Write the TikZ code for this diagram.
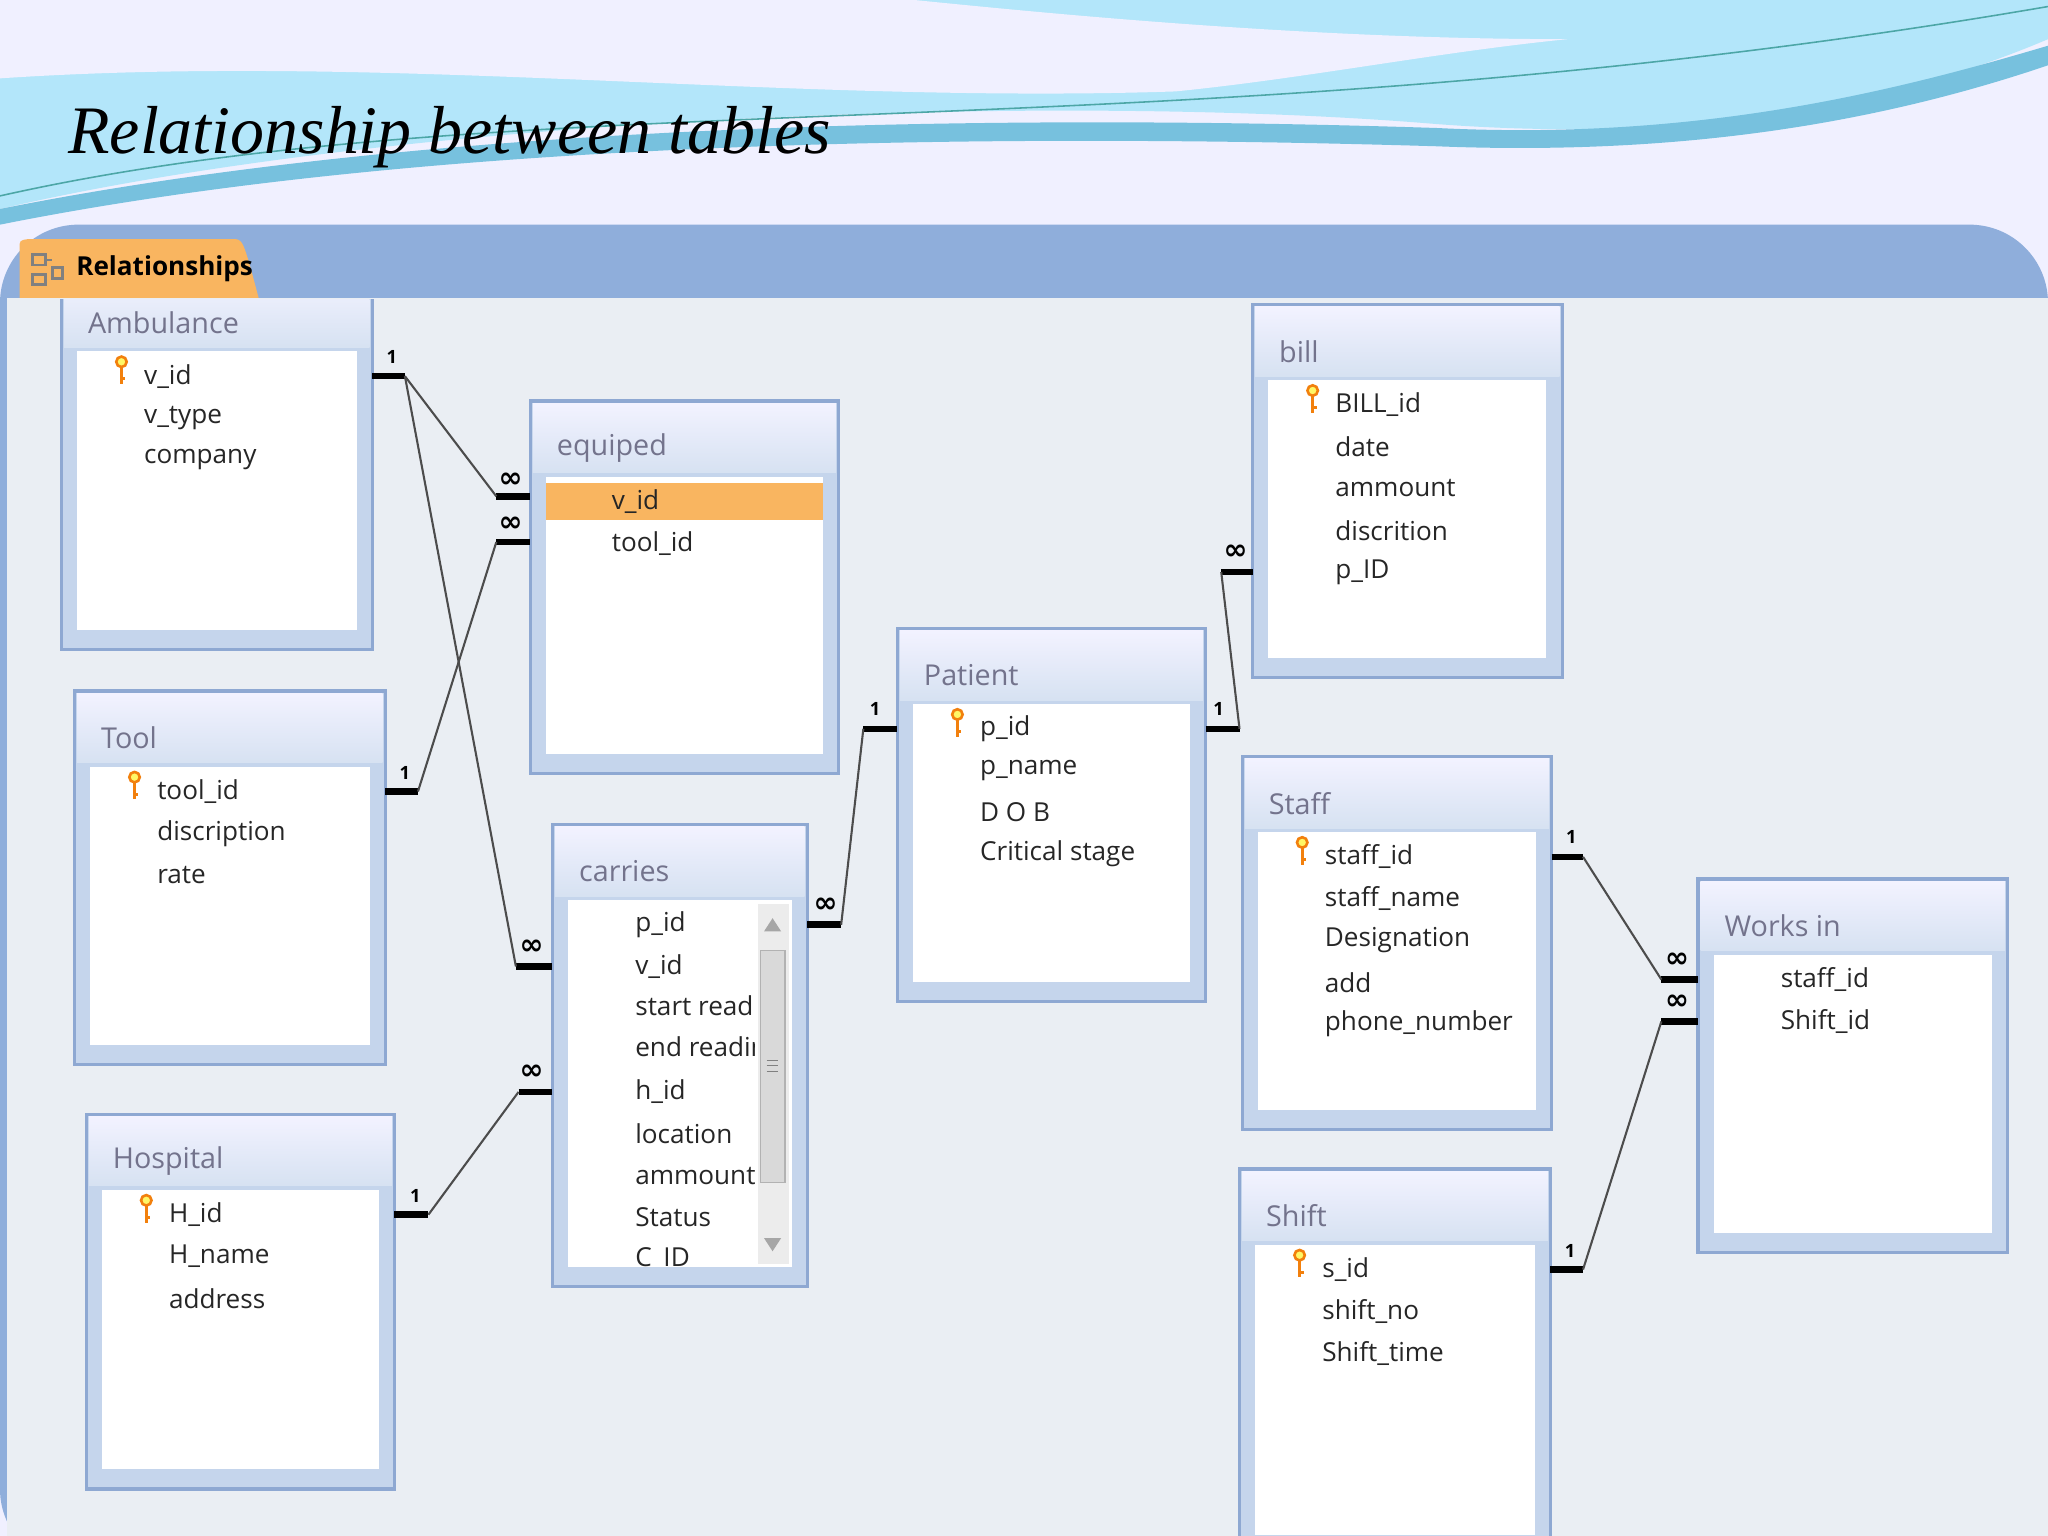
\documentclass[tikz,border=0pt]{standalone}
\usepackage{fontspec}
\setmainfont{Open Sans}
\newfontfamily\ttlfont{Liberation Serif}
\newfontfamily\symfont{DejaVu Sans}
\begin{document}
\begin{tikzpicture}[x=0.5pt,y=-0.5pt,
  fld/.style={anchor=west,font=\fontsize{10}{12}\selectfont,text=black!85,inner sep=0pt},
  ttl/.style={anchor=west,font=\fontsize{11}{13}\selectfont,text=gray!90!blue,inner sep=0pt},
  rel/.style={draw=black!70,line width=0.8pt},
  stub/.style={draw=black,line width=2.5pt},
  one/.style={font=\bfseries\fontsize{7}{8}\selectfont,inner sep=0pt},
  many/.style={font=\symfont\bfseries\fontsize{11}{12}\selectfont,inner sep=0pt}]
\definecolor{bg}{HTML}{EAEEF3}
\definecolor{bar}{HTML}{8FAEDB}
\definecolor{frm}{HTML}{C5D5EC}
\definecolor{frmd}{HTML}{8EA8D2}
\definecolor{orng}{HTML}{F9B560}
\useasboundingbox (0,0) rectangle (1568,1176);
% header
\fill[white!94!blue] (0,0) rectangle (1568,1176);
\fill[cyan!30!white] (0,0) -- (0,160) .. controls (300,90) and (800,70) .. (1100,95) .. controls (1300,110) and (1450,80) .. (1568,30) -- (1568,0) -- cycle;
\fill[white!94!blue] (0,0) -- (0,60) .. controls (300,40) and (600,80) .. (900,70) .. controls (1000,60) and (1100,40) .. (1200,30) .. controls (1000,30) and (800,10) .. (700,0) -- cycle;
\fill[cyan!60!teal!60] (0,160) .. controls (300,100) and (700,85) .. (1100,98) .. controls (1300,108) and (1450,70) .. (1568,35) -- (1568,50) .. controls (1450,90) and (1300,120) .. (1100,112) .. controls (700,100) and (300,112) .. (0,172) -- cycle;
\draw[teal!70,line width=0.6pt] (0,150) .. controls (400,60) and (900,120) .. (1568,5);
\node[anchor=west,font=\ttlfont\itshape\fontsize{26}{30}\selectfont,inner sep=0pt] (title) at (52,105) {Relationship between tables};
% window
\fill[bar,rounded corners=30pt] (0,172) rectangle (1568,1200);
\fill[bg] (5,228) rectangle (1568,1176);
\fill[orng] (15,228) -- (15,190) .. controls (15,184) .. (22,183) -- (178,183) .. controls (186,183) .. (198,228) -- cycle;
\node[anchor=west,font=\bfseries\fontsize{10}{12}\selectfont,inner sep=0pt] (tab) at (58,206) {Relationships};
\draw[gray,line width=1pt] (25,195) rectangle (35,203) (35,199) -- (40,199) (40,205) rectangle (48,213) (25,210) rectangle (35,218);
\newcommand\dbtable[6]{%
  \fill[frm] (#2,#3) rectangle (#4,#5);
  \draw[frmd,line width=1.2pt] (#2,#3) rectangle (#4,#5);
  \shade[top color=white!95!blue,bottom color=frm!70] (#2+2,#3+2) rectangle (#4-2,#3+55);
  \fill[white] (#2+12,#3+58) rectangle (#4-12,#5-15);
  \node[ttl] (#1) at (#2+20,#3+36) {#6};}
\newcommand\keyic[2]{\draw[orange!80!brown,line width=1pt,fill=yellow!60] (#1,#2-8) circle (4);
  \draw[orange!80!brown,line width=1.2pt] (#1,#2-4) -- (#1,#2+9) (#1,#2+5)--(#1+3,#2+5);}
% Ambulance
\begin{scope}
\clip (0,229) rectangle (1568,1176);
\dbtable{amb}{47}{211}{285}{497}{Ambulance}
\end{scope}
\keyic{93}{285}
\node[fld] (a1) at (110,288) {v\_id};
\node[fld] (a2) at (110,320) {v\_type};
\node[fld] (a3) at (110,352) {company};
% equiped
\dbtable{equ}{406}{307}{642}{592}{equiped}
\fill[orng] (418,370) rectangle (630,398);
\node[fld] (e1) at (468,384) {v\_id};
\node[fld] (e2) at (468,416) {tool\_id};
% Tool
\dbtable{tool}{57}{529}{295}{815}{Tool}
\keyic{103}{603}
\node[fld] (t1) at (120,606) {tool\_id};
\node[fld] (t2) at (120,638) {discription};
\node[fld] (t3) at (120,670) {rate};
% carries
\dbtable{car}{423}{631}{618}{985}{carries}
\begin{scope}
\clip (435,690) rectangle (578,970);
\foreach \t [count=\i from 0] in {p\_id,v\_id,start reading,end reading,h\_id,location,ammount,Status,C\_ID}
  \node[fld] (c\i) at (486,708+32*\i) {\t};
\end{scope}
\fill[gray!15] (580,692) rectangle (604,968);
\fill[gray!30] (582,728) rectangle (601,905);
\draw[gray!60] (582,728) rectangle (601,905);
\fill[gray!70] (585,713) -- (598,713) -- (591.5,703) -- cycle;
\fill[gray!70] (585,948) -- (598,948) -- (591.5,958) -- cycle;
\draw[gray] (587,812)--(596,812) (587,816)--(596,816) (587,820)--(596,820);
% Hospital
\dbtable{hos}{66}{853}{302}{1140}{Hospital}
\keyic{112}{927}
\node[fld] (h1) at (129,930) {H\_id};
\node[fld] (h2) at (129,962) {H\_name};
\node[fld] (h3) at (129,994) {address};
% Patient
\dbtable{pat}{687}{481}{923}{767}{Patient}
\keyic{733}{555}
\node[fld] (p1) at (750,558) {p\_id};
\node[fld] (p2) at (750,590) {p\_name};
\node[fld] (p3) at (750,622) {D O B};
\node[fld] (p4) at (750,654) {Critical stage};
% bill
\dbtable{bill}{959}{233}{1196}{519}{bill}
\keyic{1005}{307}
\node[fld] (b1) at (1022,310) {BILL\_id};
\node[fld] (b2) at (1022,342) {date};
\node[fld] (b3) at (1022,374) {ammount};
\node[fld] (b4) at (1022,406) {discrition};
\node[fld] (b5) at (1022,438) {p\_ID};
% Staff
\dbtable{stf}{951}{579}{1188}{865}{Staff}
\keyic{997}{653}
\node[fld] (s1) at (1014,656) {staff\_id};
\node[fld] (s2) at (1014,688) {staff\_name};
\node[fld] (s3) at (1014,720) {Designation};
\node[fld] (s4) at (1014,752) {add};
\node[fld] (s5) at (1014,784) {phone\_number};
% Works in
\dbtable{wrk}{1300}{673}{1537}{959}{Works in}
\node[fld] (w1) at (1363,750) {staff\_id};
\node[fld] (w2) at (1363,782) {Shift\_id};
% Shift
\dbtable{sft}{949}{895}{1187}{1190}{Shift}
\keyic{995}{969}
\node[fld] (f1) at (1012,972) {s\_id};
\node[fld] (f2) at (1012,1004) {shift\_no};
\node[fld] (f3) at (1012,1036) {Shift\_time};
% connectors
\newcommand\conn[7]{%
  \coordinate (#7a) at (#1,#2); \coordinate (#7b) at (#3,#2);
  \coordinate (#7c) at (#4,#5); \coordinate (#7d) at (#6,#5);
  \draw[stub] (#7a) -- (#7b); \draw[stub] (#7c) -- (#7d); \draw[rel] (#7b) -- (#7c);}
\conn{285}{288}{310}{380}{380}{406}{ae}
\conn{285}{288}{310}{395}{740}{423}{ac}
\conn{295}{606}{320}{380}{415}{406}{te}
\conn{302}{930}{328}{397}{836}{423}{hc}
\conn{618}{708}{644}{661}{558}{687}{cp}
\conn{923}{558}{949}{935}{438}{959}{pb}
\conn{1188}{656}{1212}{1272}{750}{1300}{sw}
\conn{1187}{972}{1212}{1272}{782}{1300}{fw}
\node[one] at (300,273) {1};
\node[many] at (391,368) {∞};
\node[many] at (391,401) {∞};
\node[one] at (310,592) {1};
\node[many] at (407,725) {∞};
\node[one] at (318,916) {1};
\node[many] at (407,821) {∞};
\node[many] at (632,693) {∞};
\node[one] at (670,543) {1};
\node[one] at (933,543) {1};
\node[many] at (946,423) {∞};
\node[one] at (1203,641) {1};
\node[many] at (1284,735) {∞};
\node[many] at (1284,767) {∞};
\node[one] at (1202,958) {1};
\end{tikzpicture}
\end{document}
